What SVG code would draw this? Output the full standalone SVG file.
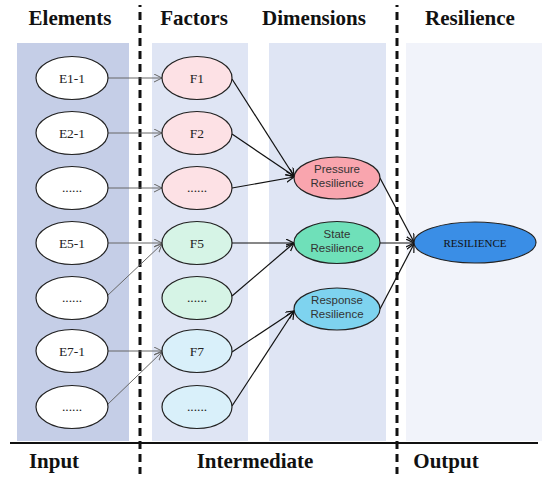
<svg xmlns="http://www.w3.org/2000/svg" width="550" height="483" viewBox="0 0 550 483">
<style>
.hdr{font-family:"Liberation Serif","Times New Roman",serif;font-weight:bold;font-size:21px;fill:#111;text-anchor:middle}
.el{stroke:#222;stroke-width:1.2}
.w{fill:#fff}
.pk{fill:#fde1e5}
.gn{fill:#d6f4e6}
.bl{fill:#d9f0fa}
.lbl{font-family:"Liberation Serif","Times New Roman",serif;font-size:13.5px;fill:#222;text-anchor:middle}
.dl{font-family:"Liberation Sans",Arial,sans-serif;font-size:11.5px;fill:#333;text-anchor:middle}
.g{stroke:#666;stroke-width:1;fill:none}
.b{stroke:#111;stroke-width:1.2;fill:none}
.dash{stroke:#111;stroke-width:3;stroke-dasharray:8,5}
</style>
<defs>
<marker id="ag" markerWidth="10" markerHeight="10" refX="8" refY="4" orient="auto" markerUnits="userSpaceOnUse"><path d="M0,0 L8,4 L0,8" fill="none" stroke="#666" stroke-width="1"/></marker>
<marker id="ab" markerWidth="10" markerHeight="10" refX="8" refY="4" orient="auto" markerUnits="userSpaceOnUse"><path d="M0,0 L8,4 L0,8" fill="none" stroke="#111" stroke-width="1.2"/></marker>
</defs>
<rect width="550" height="483" fill="#fff"/>
<g id="columns">
<rect x="17" y="43" width="112" height="398" fill="#c5cee7"/>
<rect x="152" y="43" width="96" height="398" fill="#dfe5f4"/>
<rect x="269" y="43" width="117" height="398" fill="#dfe5f4"/>
<rect x="406" y="43" width="136" height="398" fill="#f1f3fa"/>
</g>
<g id="headers">
<text class="hdr" x="70" y="25">Elements</text>
<text class="hdr" x="194" y="25">Factors</text>
<text class="hdr" x="314" y="25">Dimensions</text>
<text class="hdr" x="470" y="25">Resilience</text>
<text class="hdr" x="54" y="468">Input</text>
<text class="hdr" x="255" y="468">Intermediate</text>
<text class="hdr" x="446" y="468">Output</text>
</g>
<g id="dividers">
<line class="dash" x1="140" y1="5" x2="140" y2="474" stroke-dashoffset="6"/>
<line class="dash" x1="397" y1="5" x2="397" y2="474" stroke-dashoffset="6"/>
<line x1="10" y1="443" x2="538" y2="443" stroke="#111" stroke-width="2"/>
</g>
<g id="connectors">
<line class="g" x1="108" y1="78" x2="162" y2="78" marker-end="url(#ag)"/>
<line class="g" x1="108" y1="133" x2="162" y2="133" marker-end="url(#ag)"/>
<line class="g" x1="108" y1="188" x2="162" y2="188" marker-end="url(#ag)"/>
<line class="g" x1="108" y1="243" x2="162" y2="243" marker-end="url(#ag)"/>
<line class="g" x1="107" y1="296" x2="162" y2="244" marker-end="url(#ag)"/>
<line class="g" x1="108" y1="351" x2="162" y2="351" marker-end="url(#ag)"/>
<line class="g" x1="107" y1="405" x2="162" y2="352" marker-end="url(#ag)"/>
<line class="b" x1="232" y1="79" x2="294" y2="176" marker-end="url(#ab)"/>
<line class="b" x1="232" y1="134" x2="294" y2="176" marker-end="url(#ab)"/>
<line class="b" x1="232" y1="188" x2="294" y2="177" marker-end="url(#ab)"/>
<line class="b" x1="232" y1="243" x2="294" y2="243" marker-end="url(#ab)"/>
<line class="b" x1="232" y1="296" x2="294" y2="243" marker-end="url(#ab)"/>
<line class="b" x1="232" y1="352" x2="294" y2="311" marker-end="url(#ab)"/>
<line class="b" x1="232" y1="406" x2="294" y2="311" marker-end="url(#ab)"/>
<line class="b" x1="380" y1="178" x2="414" y2="242" marker-end="url(#ab)"/>
<line class="b" x1="380" y1="243" x2="414" y2="243" marker-end="url(#ab)"/>
<line class="b" x1="380" y1="309" x2="414" y2="244" marker-end="url(#ab)"/>
</g>
<g id="E1-1"><ellipse class="el w" cx="72" cy="78" rx="36" ry="21.5"/><text class="lbl" x="72" y="83">E1-1</text></g>
<g id="E2-1"><ellipse class="el w" cx="72" cy="133" rx="36" ry="21.5"/><text class="lbl" x="72" y="138">E2-1</text></g>
<g id="E3"><ellipse class="el w" cx="72" cy="188" rx="36" ry="21.5"/><text class="lbl" x="72" y="192">......</text></g>
<g id="E5-1"><ellipse class="el w" cx="72" cy="243" rx="36" ry="21.5"/><text class="lbl" x="72" y="248">E5-1</text></g>
<g id="E6"><ellipse class="el w" cx="72" cy="298" rx="36" ry="21.5"/><text class="lbl" x="72" y="302">......</text></g>
<g id="E7-1"><ellipse class="el w" cx="72" cy="351" rx="36" ry="21.5"/><text class="lbl" x="72" y="356">E7-1</text></g>
<g id="E8"><ellipse class="el w" cx="72" cy="407" rx="36" ry="21.5"/><text class="lbl" x="72" y="411">......</text></g>
<g id="F1"><ellipse class="el pk" cx="197" cy="78" rx="35" ry="21.5"/><text class="lbl" x="197" y="83">F1</text></g>
<g id="F2"><ellipse class="el pk" cx="197" cy="133" rx="35" ry="21.5"/><text class="lbl" x="197" y="138">F2</text></g>
<g id="F3"><ellipse class="el pk" cx="197" cy="188" rx="35" ry="21.5"/><text class="lbl" x="197" y="192">......</text></g>
<g id="F5"><ellipse class="el gn" cx="197" cy="243" rx="35" ry="21.5"/><text class="lbl" x="197" y="248">F5</text></g>
<g id="F6"><ellipse class="el gn" cx="197" cy="298" rx="35" ry="21.5"/><text class="lbl" x="197" y="302">......</text></g>
<g id="F7"><ellipse class="el bl" cx="197" cy="351" rx="35" ry="21.5"/><text class="lbl" x="197" y="356">F7</text></g>
<g id="F8"><ellipse class="el bl" cx="197" cy="407" rx="35" ry="21.5"/><text class="lbl" x="197" y="411">......</text></g>
<g id="pressure"><ellipse class="el" cx="337" cy="178" rx="43" ry="21" style="fill:#f9a5ae"/><text class="dl" x="337" y="173">Pressure</text><text class="dl" x="337" y="187">Resilience</text></g>
<g id="state"><ellipse class="el" cx="337" cy="242.5" rx="43" ry="21" style="fill:#6fe0b9"/><text class="dl" x="337" y="238">State</text><text class="dl" x="337" y="252">Resilience</text></g>
<g id="response"><ellipse class="el" cx="337" cy="309" rx="43" ry="21" style="fill:#7ed3ef"/><text class="dl" x="337" y="304">Response</text><text class="dl" x="337" y="318">Resilience</text></g>
<g id="resilience"><ellipse class="el" cx="475" cy="242.5" rx="61" ry="20.5" style="fill:#3a8ee6"/><text class="lbl" x="475" y="246.5" style="font-size:11px;fill:#111">RESILIENCE</text></g>
</svg>
